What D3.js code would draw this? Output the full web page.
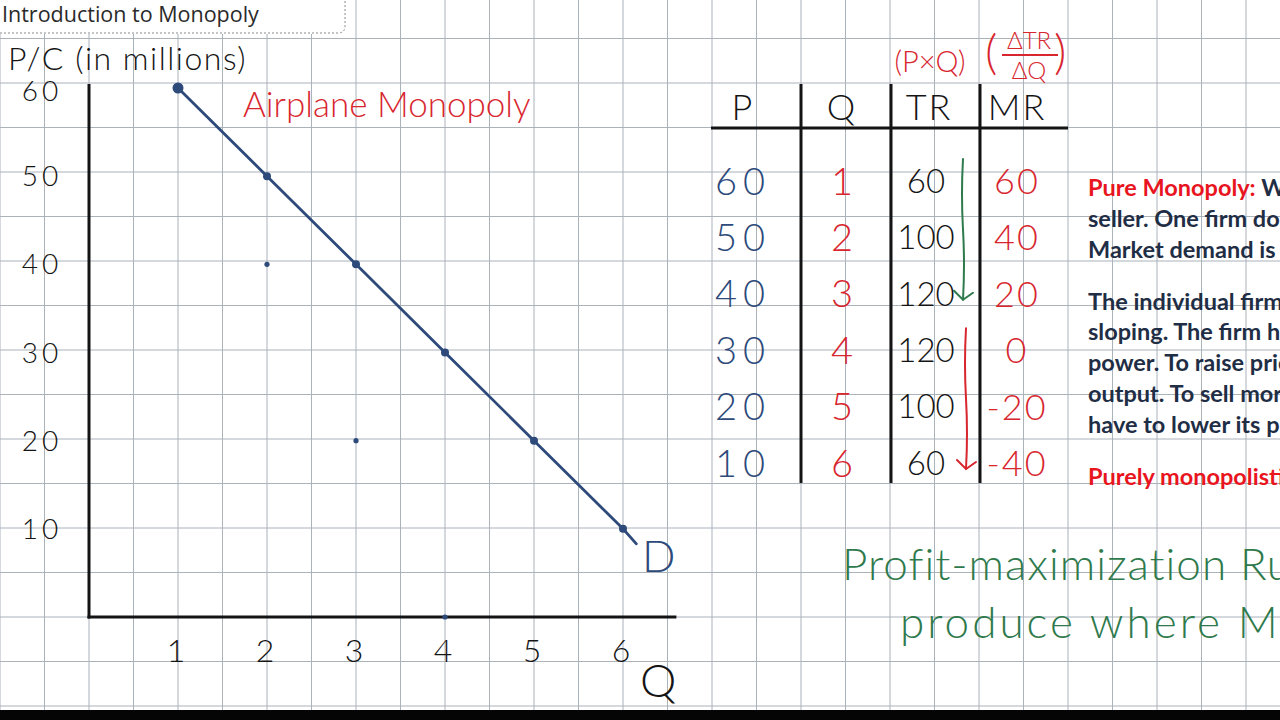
<!DOCTYPE html>
<html>
<head>
<meta charset="utf-8">
<script src="https://cdn.jsdelivr.net/npm/d3@7"></script>
<style>
  html, body { margin: 0; padding: 0; background: #fff; overflow: hidden; }
  svg { display: block; }
  .hand { font-family: "Lato", "Open Sans", sans-serif; font-weight: 300; }
  .print { font-family: "Lato", "Open Sans", sans-serif; font-weight: 700; }
</style>
</head>
<body>
<svg id="chart" width="1280" height="720"></svg>
<script>
/* ---------------- DATA ---------------- */

const demandQ   = [1, 2, 3, 4, 5, 6];
const demandP   = [60, 50, 40, 30, 20, 10];
const demandEnd = [6.15, 8.3];            // where the drawn line stops (Q, P)
const guideQ    = [2, 3, 4];              // little pencil dots left on the grid
const guideP    = [40, 20, 0];

const xTicks = [1, 2, 3, 4, 5, 6];
const yTicks = [10, 20, 30, 40, 50, 60];

const tableHeaders = ["P", "Q", "TR", "MR"];
const tableP  = [60, 50, 40, 30, 20, 10];
const tableQ  = [1, 2, 3, 4, 5, 6];
const tableTR = [60, 100, 120, 120, 100, 60];
const tableMR = [60, 40, 20, 0, -20, -40];

// paragraphs -> lines -> [text, colour] parts (runs off the right edge like the slide)
const notesParagraphs = [
  [
    [["Pure Monopoly: ", "red"], ["Where there is only a single", "dark"]],
    [["seller. One firm dominates the whole market.", "dark"]],
    [["Market demand is the firm's demand.", "dark"]]
  ],
  [
    [["The individual  firm's demand curve is downward", "dark"]],
    [["sloping.  The firm has considerable market", "dark"]],
    [["power. To raise price, the firm must restrict", "dark"]],
    [["output. To sell more output, the firm will", "dark"]],
    [["have to lower its price.", "dark"]]
  ],
  [
    [["Purely monopolistic markets are rare.", "red"]]
  ]
];

const ruleLines = ["Profit-maximization Rule:", "produce where MR = MC"];

/* ---------------- CONFIG ---------------- */

const W = 1280, H = 720;
const INK = { blue: "#2d4a7a", red: "#d8262f", green: "#2f7a4c", black: "#141414", dark: "#1f2e45" };
const GRID = 44.5;

const svg = d3.select("#chart");

const x = d3.scaleLinear().domain([0, 6]).range([89, 623]);
const y = d3.scaleLinear().domain([0, 60]).range([617, 88]);

/* ---------------- GRID PAPER ---------------- */

const gridX = d3.range(-2, 27).map(k => x(0) + k * GRID).filter(v => v >= 0 && v <= W);
const gridY = d3.range(-2, 16).map(k => y(0) - k * GRID).filter(v => v >= 0 && v <= H);

svg.append("g").selectAll("line")
  .data(gridX)
  .join("line")
  .attr("x1", d => d).attr("x2", d => d)
  .attr("y1", 0).attr("y2", H)
  .attr("stroke", "#aab2ba")
  .attr("stroke-width", 1);

svg.append("g").selectAll("line")
  .data(gridY)
  .join("line")
  .attr("x1", 0).attr("x2", W)
  .attr("y1", d => d).attr("y2", d => d)
  .attr("stroke", "#aab2ba")
  .attr("stroke-width", 1);

/* title tab */
svg.append("path")
  .attr("d", "M0,0 H345 V28 Q345,34 339,34 H0 Z")
  .attr("fill", "#fff");
svg.append("path")
  .attr("d", "M0,33 H338 Q345,33 345,26 V0")
  .attr("fill", "none")
  .attr("stroke", "#8a8a8a")
  .attr("stroke-width", 1)
  .attr("stroke-dasharray", "2,2");
svg.append("text")
  .attr("x", 2).attr("y", 22)
  .attr("font-family", "'Open Sans', sans-serif")
  .attr("font-size", 21.5)
  .attr("fill", "#2a2a2a")
  .text("Introduction to Monopoly");

/* bottom black strip */
svg.append("rect")
  .attr("x", 0).attr("y", 710).attr("width", W).attr("height", 10)
  .attr("fill", "#050505");

/* ---------------- GRAPH ---------------- */

const axes = svg.append("g");
axes.append("line")
  .attr("x1", x(0)).attr("x2", x(0))
  .attr("y1", y(60) - 4).attr("y2", y(0) + 1.5)
  .attr("stroke", INK.black).attr("stroke-width", 3);
axes.append("line")
  .attr("x1", x(0) - 1.5).attr("x2", x(6.6))
  .attr("y1", y(0)).attr("y2", y(0))
  .attr("stroke", INK.black).attr("stroke-width", 3);

const hand = svg.append("g").attr("class", "hand");

hand.selectAll("text.ytick")
  .data(yTicks)
  .join("text")
  .attr("x", 42)
  .attr("y", d => y(d) + (d === 60 ? 3 : 0))
  .attr("dy", "0.36em")
  .attr("text-anchor", "middle")
  .attr("font-size", 28)
  .attr("letter-spacing", 4)
  .attr("fill", INK.black)
  .text(d => d);

hand.selectAll("text.xtick")
  .data(xTicks)
  .join("text")
  .attr("x", d => x(d) - 2)
  .attr("y", 650)
  .attr("dy", "0.36em")
  .attr("text-anchor", "middle")
  .attr("font-size", 32)
  .attr("fill", INK.black)
  .text(d => d);

hand.append("text")
  .attr("x", 8).attr("y", 70)
  .attr("font-size", 32)
  .attr("letter-spacing", 1.5)
  .attr("fill", INK.black)
  .text("P/C (in millions)");

hand.append("text")
  .attr("x", 243).attr("y", 117)
  .attr("font-size", 35)
  .attr("fill", INK.red)
  .text("Airplane Monopoly");

hand.append("text")
  .attr("x", 640).attr("y", 697)
  .attr("font-size", 46)
  .attr("fill", INK.black)
  .text("Q");

hand.append("text")
  .attr("x", 642).attr("y", 572)
  .attr("font-size", 44)
  .attr("fill", INK.blue)
  .text("D");

/* demand curve */
const demand = demandQ.map((q, i) => ({ q, p: demandP[i] }));
svg.append("path")
  .datum(demand.concat([{ q: demandEnd[0], p: demandEnd[1] }]))
  .attr("d", d3.line().x(d => x(d.q)).y(d => y(d.p)))
  .attr("fill", "none")
  .attr("stroke", INK.blue)
  .attr("stroke-width", 2.8)
  .attr("stroke-linecap", "round");

svg.selectAll("circle.pt")
  .data(demand)
  .join("circle")
  .attr("cx", d => x(d.q))
  .attr("cy", d => y(d.p))
  .attr("r", (d, i) => i === 0 ? 5.5 : 4)
  .attr("fill", INK.blue);

svg.selectAll("circle.guide")
  .data(guideQ.map((q, i) => ({ q, p: guideP[i] })))
  .join("circle")
  .attr("cx", d => x(d.q))
  .attr("cy", d => y(d.p))
  .attr("r", 2.6)
  .attr("fill", INK.blue);

/* ---------------- TABLE ---------------- */

const colX = { P: 743, Q: 842, TR: 929, MR: 1017 };
const row = d3.scaleLinear().domain([0, 5]).range([181, 463]);

const tbl = svg.append("g");
tbl.append("line")
  .attr("x1", 711).attr("x2", 1068)
  .attr("y1", 128).attr("y2", 128)
  .attr("stroke", INK.black).attr("stroke-width", 3);
tbl.selectAll("line.sep")
  .data([801, 891, 980])
  .join("line")
  .attr("x1", d => d).attr("x2", d => d)
  .attr("y1", 84).attr("y2", 483)
  .attr("stroke", INK.black).attr("stroke-width", 3);

tbl.selectAll("text.head")
  .data(tableHeaders)
  .join("text")
  .attr("class", "hand")
  .attr("x", d => colX[d])
  .attr("y", 107)
  .attr("dy", "0.36em")
  .attr("text-anchor", "middle")
  .attr("font-size", 36)
  .attr("letter-spacing", 2)
  .attr("fill", INK.black)
  .text(d => d);

const columns = [
  { key: "P",  vals: tableP,  color: INK.blue,  size: 38, ls: 6, dx: 0 },
  { key: "Q",  vals: tableQ,  color: INK.red,   size: 38, ls: 0, dx: 0 },
  { key: "TR", vals: tableTR, color: INK.black, size: 33, ls: 0, dx: -3 },
  { key: "MR", vals: tableMR, color: INK.red,   size: 36, ls: 2, dx: 0 }
];

columns.forEach(c => {
  tbl.selectAll(`text.c${c.key}`)
    .data(c.vals)
    .join("text")
    .attr("class", "hand")
    .attr("x", colX[c.key] + c.dx)
    .attr("y", (d, i) => row(i))
    .attr("dy", "0.36em")
    .attr("text-anchor", "middle")
    .attr("font-size", c.size)
    .attr("letter-spacing", c.ls)
    .attr("fill", c.color)
    .text(d => d < 0 ? "-" + Math.abs(d) : d);
});

/* (P x Q) and (ΔTR / ΔQ) notes */
tbl.append("text")
  .attr("class", "hand")
  .attr("x", 930).attr("y", 62)
  .attr("dy", "0.36em")
  .attr("text-anchor", "middle")
  .attr("font-size", 29)
  .attr("fill", INK.red)
  .text("(P×Q)");

const frac = tbl.append("g").attr("class", "hand").attr("fill", INK.red);
frac.append("text").attr("x", 985).attr("y", 52).attr("dy", "0.36em")
  .attr("font-size", 48).text("(");
frac.append("text").attr("x", 1054).attr("y", 52).attr("dy", "0.36em")
  .attr("font-size", 48).text(")");
frac.append("text").attr("x", 1029).attr("y", 40).attr("dy", "0.36em")
  .attr("text-anchor", "middle").attr("font-size", 24).text("ΔTR");
frac.append("line").attr("x1", 1002).attr("x2", 1058).attr("y1", 55).attr("y2", 55)
  .attr("stroke", INK.red).attr("stroke-width", 2);
frac.append("text").attr("x", 1029).attr("y", 70).attr("dy", "0.36em")
  .attr("text-anchor", "middle").attr("font-size", 24).text("ΔQ");

/* arrows down the TR column */
const arrows = [
  { from: 0, to: 2, color: INK.green, x: 963 },
  { from: 3, to: 5, color: INK.red,   x: 966 }
];
arrows.forEach(a => {
  const y0 = row(a.from) - 22, y1 = row(a.to) + 6;
  const g = svg.append("g")
    .attr("fill", "none")
    .attr("stroke", a.color)
    .attr("stroke-width", 2)
    .attr("stroke-linecap", "round");
  g.append("path")
    .attr("d", `M${a.x},${y0} C${a.x - 4},${(y0 + y1) / 2} ${a.x + 4},${(y0 + y1) / 2} ${a.x},${y1}`);
  g.append("path")
    .attr("d", `M${a.x - 9},${y1 - 9} L${a.x},${y1} L${a.x + 10},${y1 - 7}`);
});

/* ---------------- NOTES ---------------- */

const LINE_H = 30.8, PARA_GAP = 21.2, NOTE_TOP = 196;
const notes = svg.append("g").attr("class", "print").attr("font-size", 23.5);
let yy = NOTE_TOP;
notesParagraphs.forEach(par => {
  par.forEach(parts => {
    const t = notes.append("text").attr("x", 1088).attr("y", yy);
    parts.forEach(([str, c]) => {
      t.append("tspan").attr("fill", c === "red" ? "#e8141e" : INK.dark).text(str);
    });
    yy += LINE_H;
  });
  yy += PARA_GAP;
});

/* profit-max rule in green handwriting */
svg.append("g").attr("class", "hand")
  .selectAll("text")
  .data(ruleLines)
  .join("text")
  .attr("x", (d, i) => i === 0 ? 842 : 900)
  .attr("y", (d, i) => 580 + i * 58)
  .attr("font-size", 44)
  .attr("letter-spacing", (d, i) => i === 0 ? 1 : 3)
  .attr("fill", INK.green)
  .text(d => d);
</script>
</body>
</html>
